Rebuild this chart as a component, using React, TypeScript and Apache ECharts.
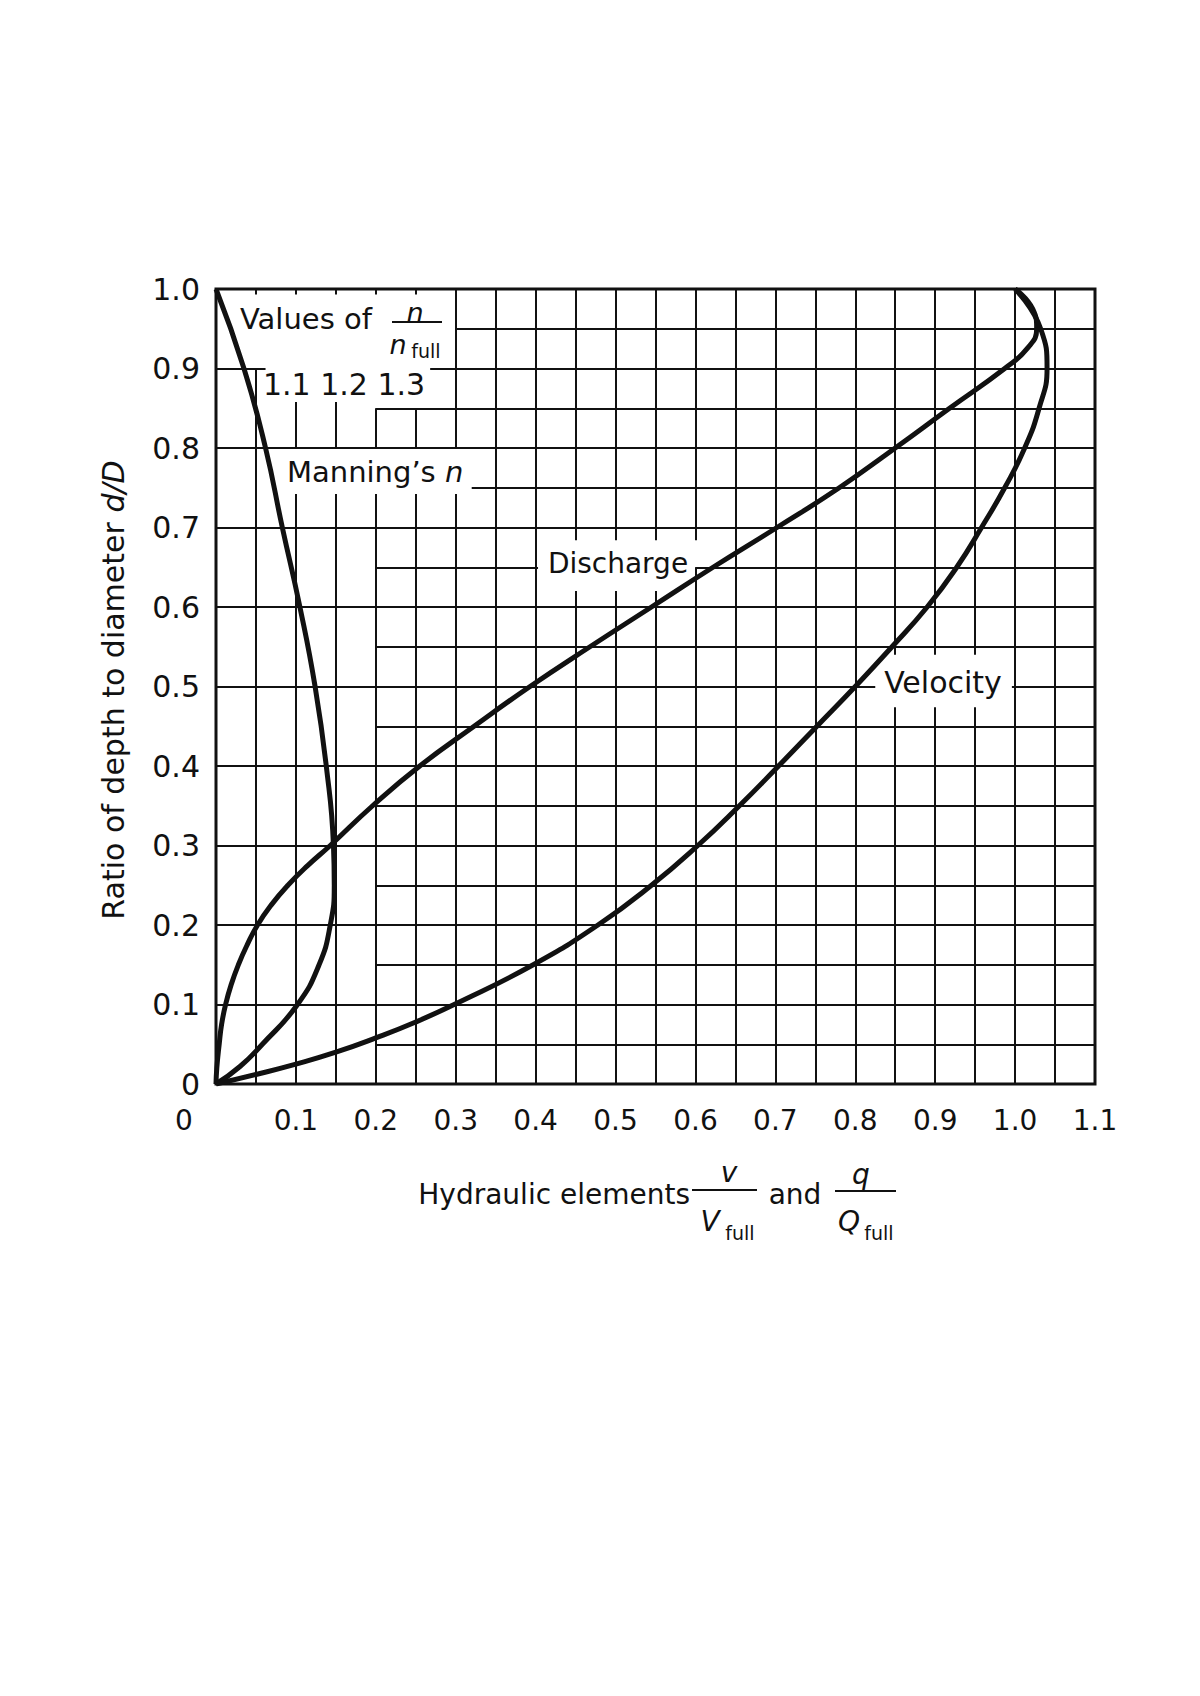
import React, { useEffect, useRef } from 'react';
import * as echarts from 'echarts';

// ---- Data ----
// Manning's n curve (x on the hydraulic-elements axis, y = d/D)
const manningX = [0, 0.035, 0.062, 0.083, 0.105, 0.124, 0.138, 0.147, 0.148, 0.143, 0.129, 0.102, 0.058, 0.03, 0];
const manningY = [1.0, 0.9, 0.8, 0.7, 0.6, 0.5, 0.4, 0.3, 0.25, 0.2, 0.15, 0.1, 0.05, 0.022, 0];

// Discharge curve q/Qfull
const dischargeX = [0, 0.001, 0.004, 0.007, 0.012, 0.019, 0.028, 0.039, 0.052, 0.069, 0.09, 0.115, 0.143, 0.196, 0.255, 0.323, 0.393, 0.468, 0.545, 0.622, 0.702, 0.78, 0.85, 0.918, 0.987, 1.015, 1.027, 1.022, 1.0];
const dischargeY = [0, 0.02, 0.05, 0.075, 0.1, 0.125, 0.15, 0.175, 0.2, 0.225, 0.25, 0.275, 0.3, 0.35, 0.4, 0.45, 0.5, 0.55, 0.6, 0.65, 0.7, 0.75, 0.8, 0.85, 0.9, 0.925, 0.95, 0.975, 1.0];

// Velocity curve v/Vfull
const velocityX = [0, 0.05, 0.1, 0.15, 0.2, 0.25, 0.298, 0.397, 0.478, 0.545, 0.603, 0.655, 0.704, 0.752, 0.8, 0.846, 0.89, 0.927, 0.958, 0.987, 1.012, 1.03, 1.04, 1.032, 1.0];
const velocityY = [0, 0.012, 0.025, 0.04, 0.058, 0.078, 0.1, 0.15, 0.2, 0.25, 0.3, 0.35, 0.4, 0.45, 0.5, 0.55, 0.6, 0.65, 0.7, 0.75, 0.8, 0.85, 0.9, 0.95, 1.0];

// Tick labels
const xTickLabels = ['0', '0.1', '0.2', '0.3', '0.4', '0.5', '0.6', '0.7', '0.8', '0.9', '1.0', '1.1'];
const yTickLabels = ['0', '0.1', '0.2', '0.3', '0.4', '0.5', '0.6', '0.7', '0.8', '0.9', '1.0'];

const X_MAX = 1.1;
const Y_MAX = 1.0;
const STEP = 0.05;

// Grid mesh: segments of each 0.05 line (gaps where the printed chart leaves room for labels)
const verticalSegments: Record<number, [number, number][]> = {
  1: [[0, 0.9], [0.993, 1]],
  2: [[0, 0.742], [0.8, 0.858], [0.993, 1]],
  3: [[0, 0.742], [0.8, 0.858], [0.993, 1]],
  4: [[0, 0.742], [0.8, 0.85], [0.993, 1]],
  5: [[0, 0.742], [0.8, 0.85], [0.993, 1]],
  6: [[0, 0.742], [0.8, 1]],
  9: [[0, 0.62], [0.684, 1]],
  10: [[0, 0.62], [0.684, 1]],
  11: [[0, 0.62], [0.684, 1]],
  12: [[0, 0.65], [0.684, 1]],
  17: [[0, 0.474], [0.54, 1]],
  18: [[0, 0.474], [0.54, 1]],
  19: [[0, 0.474], [0.54, 1]],
};
const horizontalSegments: Record<number, [number, number][]> = {
  10: [[0, 0.825], [0.996, 1.1]],
  13: [[0.2, 0.403], [0.6, 1.1]],
  15: [[0.32, 1.1]],
  18: [[0, 0.062], [0.268, 1.1]],
  19: [[0.3, 1.1]],
};

function zip(xs: number[], ys: number[]) {
  return xs.map((x, i) => [x, ys[i]]);
}

function buildMesh() {
  const segs: { coords: number[][] }[] = [];
  const nx = Math.round(X_MAX / STEP);
  const ny = Math.round(Y_MAX / STEP);
  for (let k = 1; k < nx; k++) {
    const x = +(k * STEP).toFixed(3);
    const parts = verticalSegments[k] || [[0, 1]];
    parts.forEach(([a, b]) => segs.push({ coords: [[x, a], [x, b]] }));
  }
  for (let j = 1; j < ny; j++) {
    const y = +(j * STEP).toFixed(3);
    const parts = horizontalSegments[j] || (j % 2 === 0 ? [[0, X_MAX]] : [[0.2, X_MAX]]);
    parts.forEach(([a, b]) => segs.push({ coords: [[a, y], [b, y]] }));
  }
  return segs;
}

const FONT = "'DejaVu Sans', 'Liberation Sans', sans-serif";
const INK = '#111';

function txt(text: string, x: number, y: number, size: number, opts: any = {}) {
  const align = opts.align || 'center';
  return {
    type: 'text',
    x,
    y,
    rotation: opts.rotation || 0,
    silent: true,
    z: 10,
    style: {
      text,
      fill: INK,
      fontSize: size,
      fontFamily: FONT,
      fontStyle: opts.italic ? 'italic' : 'normal',
      fontWeight: opts.weight || 'normal',
      align,
      textAlign: align,
      verticalAlign: 'middle',
      textVerticalAlign: 'middle',
      rich: opts.rich,
    },
  };
}

function hline(x1: number, x2: number, y: number) {
  return {
    type: 'line',
    silent: true,
    z: 10,
    shape: { x1, y1: y, x2, y2: y },
    style: { stroke: INK, lineWidth: 2 },
  };
}

export default function App() {
  const ref = useRef<HTMLDivElement>(null);

  useEffect(() => {
    if (!ref.current) return;
    const chart = echarts.init(ref.current, null, { renderer: 'svg' });
    const italicRich = (size: number) => ({
      i: { fontStyle: 'italic', fontSize: size, fontFamily: FONT, fill: INK, color: INK },
      r: { fontStyle: 'normal', fontSize: size, fontFamily: FONT, fill: INK, color: INK },
    });
    const curve = (name: string, xs: number[], ys: number[]) => ({
      name,
      type: 'line',
      data: zip(xs, ys),
      showSymbol: false,
      smooth: 0.5,
      z: 3,
      lineStyle: { color: INK, width: 5 },
    });

    chart.setOption({
      animation: false,
      backgroundColor: '#fff',
      grid: {
        left: 216,
        top: 289,
        width: 879,
        height: 795,
        show: true,
        borderColor: INK,
        borderWidth: 3,
        backgroundColor: 'transparent',
      },
      xAxis: {
        type: 'value',
        min: 0,
        max: X_MAX,
        interval: 0.1,
        axisLine: { show: false },
        axisTick: { show: false },
        splitLine: { show: false },
        axisLabel: {
          showMinLabel: false,
          margin: 22,
          fontSize: 28,
          fontFamily: FONT,
          color: INK,
          formatter: (v: number) => xTickLabels[Math.round(v * 10)] ?? '',
        },
      },
      yAxis: {
        type: 'value',
        min: 0,
        max: Y_MAX,
        interval: 0.1,
        axisLine: { show: false },
        axisTick: { show: false },
        splitLine: { show: false },
        axisLabel: {
          margin: 16,
          fontSize: 30,
          fontFamily: FONT,
          color: INK,
          formatter: (v: number) => yTickLabels[Math.round(v * 10)] ?? '',
        },
      },
      series: [
        {
          type: 'lines',
          coordinateSystem: 'cartesian2d',
          silent: true,
          z: 1,
          lineStyle: { color: INK, width: 2, opacity: 1 },
          data: buildMesh(),
        },
        curve("Manning's n", manningX, manningY),
        curve('Discharge', dischargeX, dischargeY),
        curve('Velocity', velocityX, velocityY),
      ],
      graphic: [
        // x-axis "0" label (set left of the axis in the original)
        txt('0', 184, 1120, 28),
        // Y axis title
        txt('{r|Ratio of depth to diameter }{i|d/D}', 113, 690, 30, {
          rotation: Math.PI / 2,
          rich: italicRich(30),
        }),
        // X axis title
        txt('Hydraulic elements', 690, 1194, 28, { align: 'right' }),
        hline(692, 757, 1190),
        txt('v', 729, 1172, 28, { italic: true }),
        txt('V', 710, 1221, 28, { italic: true }),
        txt('full', 740, 1233, 19),
        txt('and', 795, 1194, 28),
        hline(835, 896, 1191),
        txt('q', 861, 1174, 28, { italic: true }),
        txt('Q', 849, 1221, 28, { italic: true }),
        txt('full', 879, 1233, 19),
        // Values of n / n_full
        txt('Values of', 240, 319, 29, { align: 'left' }),
        txt('n', 415, 312, 27, { italic: true }),
        hline(392, 442, 322),
        txt('n', 398, 344, 27, { italic: true }),
        txt('full', 426, 351, 19),
        txt('1.1 1.2 1.3', 263, 384, 30, { align: 'left' }),
        // Curve labels
        txt('{r|Manning’s }{i|n}', 287, 472, 29, { align: 'left', rich: italicRich(29) }),
        txt('Discharge', 618, 563, 28),
        txt('Velocity', 943, 682, 30),
      ],
    });
    return () => chart.dispose();
  }, []);

  return (
    <div
      ref={ref}
      style={{ position: 'fixed', left: 0, top: 0, width: 1200, height: 1696, background: '#fff' }}
    />
  );
}
